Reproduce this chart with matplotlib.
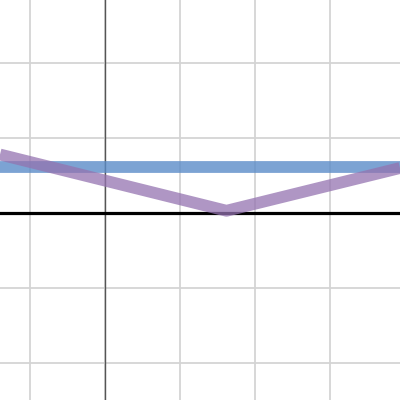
import matplotlib
matplotlib.use("Agg")
import matplotlib.pyplot as plt

# graph units (one grid square = 1)
x_range = (-1.4, 3.933)
y_range = (-2.493, 2.84)
grid_x = [-1, 0, 1, 2, 3]
grid_y = [-2, -1, 0, 1, 2]

blue_x = [-1.4, 3.933]
blue_y = [0.61, 0.61]
purple_x = [-1.4, 1.62, 3.933]
purple_y = [0.78, 0.03, 0.6]
black_x = [-1.4, 3.933]
black_y = [0.0, 0.0]

fig = plt.figure(figsize=(4, 4), dpi=100)
ax = fig.add_axes([0, 0, 1, 1])
ax.set_xlim(*x_range)
ax.set_ylim(*y_range)
for s in ax.spines.values():
    s.set_visible(False)
ax.set_xticks([])
ax.set_yticks([])

for gx in grid_x:
    ax.axvline(gx, color="#d4d4d4", lw=1.3, zorder=0)
for gy in grid_y:
    ax.axhline(gy, color="#d4d4d4", lw=1.3, zorder=0)
ax.axvline(0, color="#555555", lw=1.0, zorder=1)

ax.plot(black_x, black_y, color="black", lw=2.3, zorder=2)
ax.plot(blue_x, blue_y, color="#5b8cc8", lw=8.5, alpha=0.8, solid_capstyle="butt", zorder=3)
ax.plot(purple_x, purple_y, color="#9473b0", lw=8.5, alpha=0.75, solid_capstyle="butt", zorder=4)

fig.savefig("out.png", dpi=100)
